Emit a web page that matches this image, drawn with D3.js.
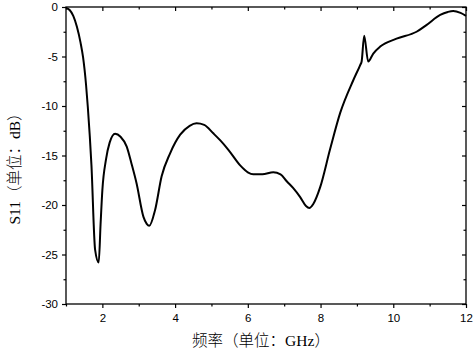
<!DOCTYPE html>
<html lang="zh">
<head>
<meta charset="utf-8">
<title>S11</title>
<script src="https://d3js.org/d3.v7.min.js"></script>
<style>
  body { margin: 0; background: #fff; }
  .tick text { font-family: "Liberation Sans", Arial, sans-serif; font-size: 11.5px; fill: #000; }
  .title { font-family: "Liberation Serif", "Noto Sans CJK SC", serif; font-size: 15.5px; fill: #000; font-weight: 300; }
</style>
</head>
<body>
<script>
// data: frequency (GHz) and S11 (dB)
const freq = [1.0, 1.1, 1.2, 1.3, 1.4, 1.47, 1.55, 1.6, 1.7, 1.8, 1.9, 1.95, 2.0, 2.1, 2.2, 2.35,
  2.5, 2.67, 2.8, 2.94, 3.13, 3.22, 3.29, 3.45, 3.63, 3.86, 4.14, 4.4, 4.59, 4.8, 5.05, 5.25,
  5.46, 5.79, 6.0, 6.15, 6.4, 6.7, 6.9, 7.07, 7.25, 7.44, 7.6, 7.69, 7.8, 7.99, 8.26, 8.54,
  8.9, 9.09, 9.13, 9.2, 9.31, 9.45, 9.64, 10.09, 10.64, 10.92, 11.29, 11.5, 11.65, 11.85, 12.0];
const s11 = [-0.1, -0.3, -0.9, -2.0, -3.6, -5.1, -7.8, -10.1, -16, -24.5, -25.8, -22, -18.5, -15.4, -13.7, -12.8,
  -13.1, -14.1, -15.8, -17.8, -21.2, -21.9, -22.1, -20.5, -17.1, -14.8, -12.9, -12.0, -11.75, -11.9, -12.76, -13.5,
  -14.4, -16.0, -16.7, -16.9, -16.9, -16.7, -16.9, -17.6, -18.3, -19.2, -20.1, -20.3, -19.9, -18.2, -14.4, -10.7,
  -7.4, -5.86, -5.5, -2.9, -5.5, -4.7, -4.0, -3.2, -2.5, -1.8, -0.8, -0.5, -0.4, -0.6, -0.9];
const xTicks = [2, 4, 6, 8, 10, 12];
const xMinor = [1, 3, 5, 7, 9, 11];
const yTicks = [0, -5, -10, -15, -20, -25, -30];
const yMinor = [-2.5, -7.5, -12.5, -17.5, -22.5, -27.5];

const w = 474, h = 351;
const mLeft = 66, mRight = 466, mTop = 7, mBottom = 304;

const x = d3.scaleLinear().domain([1, 12]).range([mLeft, mRight]);
const y = d3.scaleLinear().domain([-30, 0]).range([mBottom, mTop]);

const svg = d3.select("body").append("svg")
  .attr("width", w)
  .attr("height", h);

// axes: outer ticks with labels bottom/left, inner ticks top/right
function ticks(axis, vals, size, labels) {
  return axis.tickValues(vals).tickSize(size).tickSizeOuter(0)
    .tickFormat(labels ? d => String(d) : "");
}

svg.append("g").attr("transform", `translate(0,${mBottom})`)
  .call(ticks(d3.axisBottom(x), xTicks, 4, true))
  .call(g => g.selectAll("text").attr("y", 10));
svg.append("g").attr("transform", `translate(0,${mBottom})`)
  .call(ticks(d3.axisBottom(x), xMinor, 2.5, false));
svg.append("g").attr("transform", `translate(0,${mTop})`)
  .call(ticks(d3.axisBottom(x), xTicks, 4, false));
svg.append("g").attr("transform", `translate(0,${mTop})`)
  .call(ticks(d3.axisBottom(x), xMinor, 2.5, false));

svg.append("g").attr("transform", `translate(${mLeft},0)`)
  .call(ticks(d3.axisLeft(y), yTicks, 4, true))
  .call(g => g.selectAll("text").attr("x", -8));
svg.append("g").attr("transform", `translate(${mLeft},0)`)
  .call(ticks(d3.axisLeft(y), yMinor, 2.5, false));
svg.append("g").attr("transform", `translate(${mRight},0)`)
  .call(ticks(d3.axisLeft(y), yTicks, 4, false));
svg.append("g").attr("transform", `translate(${mRight},0)`)
  .call(ticks(d3.axisLeft(y), yMinor, 2.5, false));

svg.selectAll(".domain").remove();
svg.selectAll(".tick line").attr("stroke", "#000").attr("stroke-width", 1.2);

// frame
svg.append("rect")
  .attr("x", mLeft).attr("y", mTop)
  .attr("width", mRight - mLeft).attr("height", mBottom - mTop)
  .attr("fill", "none").attr("stroke", "#000").attr("stroke-width", 1.3);

// curve
const line = d3.line()
  .x((d, i) => x(freq[i]))
  .y(d => y(d))
  .curve(d3.curveMonotoneX);

svg.append("path")
  .datum(s11)
  .attr("fill", "none")
  .attr("stroke", "#000")
  .attr("stroke-width", 2)
  .attr("stroke-linejoin", "round")
  .attr("d", line);

// titles
svg.append("text")
  .attr("class", "title")
  .attr("x", 261).attr("y", 346)
  .attr("text-anchor", "middle")
  .text("频率（单位：GHz）");

svg.append("text")
  .attr("class", "title")
  .attr("transform", "translate(20,165) rotate(-90)")
  .attr("text-anchor", "middle")
  .text("S11（单位：dB）");
</script>
</body>
</html>
